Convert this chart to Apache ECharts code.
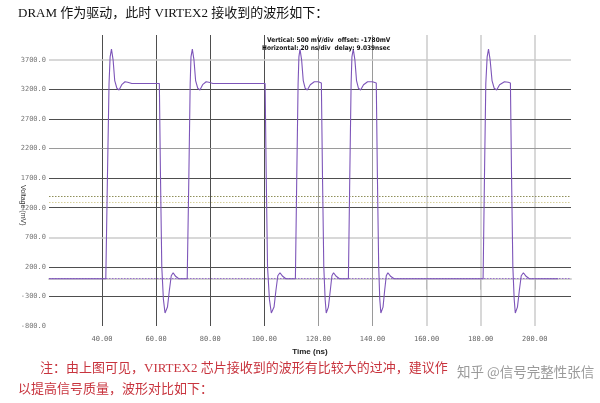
<!DOCTYPE html>
<html>
<head>
<meta charset="utf-8">
<script src="https://cdn.jsdelivr.net/npm/echarts@6/dist/echarts.min.js"></script>
<style>html,body{margin:0;padding:0;background:#fff;}#c{width:600px;height:403px;}</style>
</head>
<body>
<div id="c"></div>
<script>
// ---- data ----
var xTicks = [40, 60, 80, 100, 120, 140, 160, 180, 200];
var xTickShade = ['dark','dark','dark','dark','mid','mid','light','light','light'];
var yTicks = [-800, -300, 200, 700, 1200, 1700, 2200, 2700, 3200, 3700];
var yTickShade = ['light','dark','dark','light','dark','dark','mid','dark','dark','light'];
var refLevels = [0, 1300, 1400];

var timeNs = [20.4,
  41.4, 42.0, 42.6, 43.0, 43.5, 44.1, 44.7, 45.5, 46.3, 47.3, 48.5, 49.5, 51.0, 61.2, 61.6, 62.1, 62.7, 63.3, 63.7, 64.2, 64.9, 65.6, 66.3, 67.2, 68.4,
  71.5, 72.1, 72.6, 72.9, 73.4, 74.0, 74.6, 75.4, 76.2, 77.2, 78.5, 79.5, 81.0, 100.3, 100.7, 101.2, 101.9, 102.6, 103.1, 103.6, 104.3, 105.0, 105.8, 106.8, 108.0,
  111.5, 112.0, 112.5, 112.8, 113.2, 113.8, 114.4, 115.1, 115.9, 117.0, 118.5, 120.0, 121.1, 121.5, 122.0, 122.5, 122.9, 123.2, 123.7, 124.4, 125.0, 125.6, 126.6, 127.8,
  131.1, 131.6, 132.1, 132.4, 132.9, 133.5, 134.1, 134.8, 135.6, 136.7, 138.2, 140.0, 141.4, 141.8, 142.3, 142.7, 143.1, 143.5, 143.9, 144.5, 145.1, 145.7, 146.7, 148.0,
  180.9, 181.4, 181.9, 182.4, 182.9, 183.5, 184.2, 185.0, 185.9, 187.0, 188.8, 190.2, 191.0, 191.4, 191.9, 192.4, 192.8, 193.1, 193.6, 194.3, 195.0, 195.8, 196.8, 198.0,
  208.6];
var voltMv = [0,
  0, 1700, 3300, 3750, 3880, 3700, 3350, 3220, 3190, 3280, 3330, 3320, 3300, 3300, 1800, 200, -350, -580, -600, -480, -200, 50, 100, 40, 0,
  0, 1700, 3300, 3750, 3880, 3700, 3350, 3220, 3190, 3280, 3330, 3320, 3300, 3300, 1800, 200, -350, -580, -600, -480, -200, 50, 100, 40, 0,
  0, 1700, 3300, 3750, 3880, 3700, 3350, 3220, 3190, 3280, 3330, 3330, 3310, 1800, 200, -350, -580, -600, -480, -200, 50, 100, 40, 0,
  0, 1700, 3300, 3750, 3880, 3700, 3350, 3220, 3190, 3280, 3330, 3330, 3310, 1800, 200, -350, -580, -600, -480, -200, 50, 100, 40, 0,
  0, 1700, 3300, 3750, 3880, 3700, 3350, 3220, 3190, 3280, 3330, 3320, 3310, 1800, 200, -350, -580, -600, -480, -200, 50, 100, 40, 0,
  0];

var titleText = 'DRAM 作为驱动，此时 VIRTEX2 接收到的波形如下：';
var noteLine1 = '注：由上图可见，VIRTEX2 芯片接收到的波形有比较大的过冲，建议作';
var noteLine2 = '以提高信号质量，波形对比如下：';
var watermark = '知乎 @信号完整性张信';
var scopeInfo1 = 'Vertical: 500 mV/div  offset: -1780mV';
var scopeInfo2 = 'Horizontal: 20 ns/div  delay: 9.039nsec';

// ---- build ----
var shadeColor = {dark: '#4e4e4e', mid: '#9a9a9a', light: '#cbcbcb'};
var shadeWidth = {dark: 1, mid: 1, light: 1.5};
var wave = timeNs.map(function (t, i) { return [t, voltMv[i]]; });

var vLines = xTicks.map(function (v, i) {
  return {xAxis: v, lineStyle: {color: shadeColor[xTickShade[i]], width: shadeWidth[xTickShade[i]], type: 'solid'}};
});
var hLines = yTicks.slice(1).map(function (v, i) {
  var s = yTickShade[i + 1];
  return {yAxis: v, lineStyle: {color: shadeColor[s], width: shadeWidth[s], type: 'solid'}};
});
var refColors = ['#9a6fd0', '#d6cf9a', '#8f8f5a'];
var rLines = refLevels.map(function (v, i) {
  return {yAxis: v, lineStyle: {color: refColors[i], width: 1, type: [1.5, 1.5]}};
});

var chart = echarts.init(document.getElementById('c'), null, {renderer: 'canvas'});
chart.setOption({
  animation: false,
  backgroundColor: '#fff',
  grid: {left: 49, right: 29, top: 35, bottom: 77, containLabel: false},
  xAxis: {
    type: 'value', min: 20.4, max: 213.4,
    axisLine: {show: true, lineStyle: {color: '#d2d2d2', width: 2}},
    axisTick: {show: true, customValues: xTicks, length: 11, lineStyle: {color: '#8a8a8a'}},
    axisLabel: {customValues: xTicks, color: '#666', fontSize: 7, fontFamily: 'DejaVu Sans Mono', margin: 10,
      formatter: function (v) { return v.toFixed(2); }},
    splitLine: {show: false},
    name: 'Time (ns)', nameLocation: 'middle', nameGap: 21,
    nameTextStyle: {color: '#222', fontSize: 8, fontWeight: 'bold', fontFamily: 'Liberation Sans'}
  },
  yAxis: {
    type: 'value', min: -800, max: 4120,
    axisLine: {show: false}, axisTick: {show: false},
    axisLabel: {customValues: yTicks, color: '#777', fontSize: 7, fontFamily: 'DejaVu Sans Mono', margin: 3,
      formatter: function (v) { return v.toFixed(1); }},
    splitLine: {show: false}
  },
  series: [
    {type: 'line', data: [], silent: true, z: 1,
      markLine: {silent: true, symbol: 'none', label: {show: false}, data: vLines.concat(hLines)}},
    {type: 'line', data: [], silent: true, z: 2,
      markLine: {silent: true, symbol: 'none', label: {show: false}, data: rLines}},
    {type: 'line', data: wave, showSymbol: false, z: 5,
      lineStyle: {color: '#7d55b9', width: 1.1}}
  ],
  graphic: [
    {type: 'text', left: 18, top: 7, style: {text: titleText, fill: '#111', fontSize: 13, fontFamily: 'Liberation Serif, Noto Sans CJK SC'}},
    {type: 'text', left: 19, top: 185, rotation: -Math.PI / 2, originX: 0, originY: 0,
      style: {text: 'Voltage (mV)', fill: '#333', fontSize: 7, fontFamily: 'Liberation Sans', align: 'center', verticalAlign: 'middle'}},
    {type: 'text', left: 267, top: 37, z: 10, style: {text: scopeInfo1, fill: '#111', fontSize: 6.5, fontWeight: 'bold', fontFamily: 'DejaVu Sans Condensed, Liberation Sans Narrow, Liberation Sans'}},
    {type: 'text', left: 262, top: 44.5, z: 10, style: {text: scopeInfo2, fill: '#111', fontSize: 6.5, fontWeight: 'bold', fontFamily: 'DejaVu Sans Condensed, Liberation Sans Narrow, Liberation Sans'}},
    {type: 'text', left: 40, top: 362, style: {text: noteLine1, fill: '#c8343e', fontSize: 13, fontFamily: 'Liberation Serif, Noto Sans CJK SC'}},
    {type: 'text', left: 18, top: 383, style: {text: noteLine2, fill: '#c8343e', fontSize: 13, fontFamily: 'Liberation Serif, Noto Sans CJK SC'}},
    {type: 'text', left: 456, top: 364, z: 20, style: {text: watermark, fill: 'rgba(120,120,120,0.75)', fontSize: 13.5, fontFamily: 'Noto Sans CJK SC', stroke: 'rgba(255,255,255,0.8)', lineWidth: 2}}
  ]
});
</script>
</body>
</html>
